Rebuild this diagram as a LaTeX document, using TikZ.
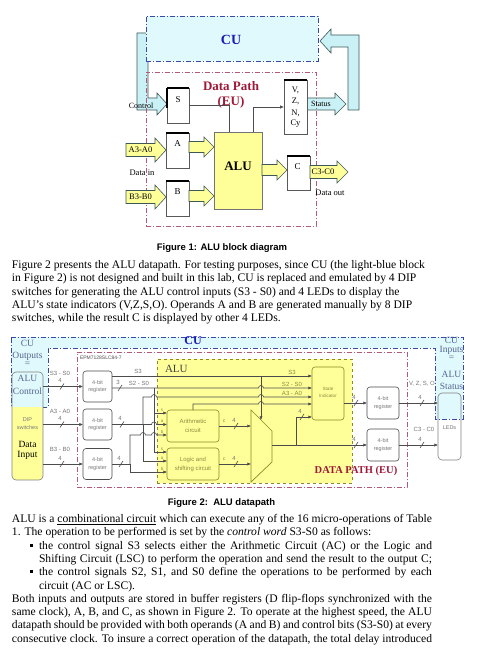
\documentclass[tikz,border=0pt]{standalone}
\usepackage{fontspec}
\setmainfont{Liberation Serif}
\newfontfamily\arialf{Liberation Sans}
\usetikzlibrary{arrows.meta}
\definecolor{cubg}{HTML}{E0F9FD}
\definecolor{cublue}{HTML}{3848A8}
\definecolor{cutxt}{HTML}{1A1AB8}
\definecolor{dptxt}{HTML}{A01838}
\definecolor{dpline}{HTML}{B45A78}
\definecolor{aluy}{HTML}{FFFF99}
\definecolor{oliv}{HTML}{8A8A20}
\definecolor{wirec}{HTML}{4C4C4C}
\definecolor{gtxt}{HTML}{777777}
\definecolor{otxt}{HTML}{8A8A40}
\definecolor{cyarr}{HTML}{C9F1F6}
\definecolor{arrl}{HTML}{3E5858}
\definecolor{coltxt}{HTML}{55658F}
\newcommand{\myss}[1]{\arialf\fontsize{#1}{#1}\selectfont}
\newcommand{\myrm}[1]{\fontsize{#1}{#1}\selectfont}
\newcommand{\barrow}[7]{\draw[#1] ({#2},{#4-#5}) -- ({#3-#7},{#4-#5}) -- ({#3-#7},{#4-#6}) -- ({#3},{#4}) -- ({#3-#7},{#4+#6}) -- ({#3-#7},{#4+#5}) -- ({#2},{#4+#5}) -- cycle;}
\tikzset{
  cubox/.style={draw=cublue, fill=cubg, line width=0.7pt, dash pattern=on 5pt off 2pt on 1pt off 2pt},
  dpbox/.style={draw=dpline, line width=0.8pt, dash pattern=on 5pt off 2pt on 1pt off 2pt},
  boxone/.style={draw=black!65, fill=white, line width=0.5pt},
  cyblock/.style={fill=cyarr, draw=arrl, line width=0.6pt},
  yblock/.style={fill=aluy, draw=arrl, line width=0.6pt},
  fonewire/.style={draw=black!70, line width=0.6pt},
  wire/.style={draw=wirec, line width=0.6pt},
  warr/.style={wire, -{Latex[length=3.6pt,width=3.2pt]}},
  regbox/.style={draw=wirec, fill=white, rounded corners=3pt, line width=0.6pt, minimum width=29pt, minimum height=31pt},
  ybox/.style={draw=oliv, fill=aluy, rounded corners=3pt, line width=0.6pt},
  tinyl/.style={font=\myss{6}, text=gtxt},
  pics/busmark/.style={code={\draw[wire] (-2,3) -- (2,-3); \node[font=\myss{6}, text=gtxt] at (-2,-6) {#1};}},
  bodyt/.style={font=\myrm{11.6}, anchor=base west}
}
\begin{document}
\begin{tikzpicture}[x=1pt,y=-1pt, every node/.style={inner sep=0pt, outer sep=0pt}]
\useasboundingbox (0,0) rectangle (478,655);
\fill[white] (0,0) rectangle (478,655);

%%%%%%%%%%%%%%%% FIGURE 1 %%%%%%%%%%%%%%%%
% U arrows
\draw[cyblock] (147,33) -- (137,33) -- (137,110) -- (157,110) -- (157,115) -- (167,104) -- (157,93) -- (157,98) -- (148,98) -- (148,45) -- (147,45) -- cycle;
\draw[cyblock] (320,41) -- (331,29) -- (331,35) -- (359,35) -- (359,110) -- (348,110) -- (348,47) -- (331,47) -- (331,53) -- cycle;
\draw[cyblock] (307,98) -- (335,98) -- (335,93) -- (346,104) -- (335,115) -- (335,110) -- (307,110) -- cycle;
% CU box
\node[cubox, minimum width=172pt, minimum height=45pt] (cu1) at (232,38.5) {};
\node[font=\bfseries\myrm{14}, text=cutxt] at (231,40) {CU};
% data path box
\node[dpbox, minimum width=170pt, minimum height=154pt] (dp1) at (231,149) {};
\node[font=\bfseries\myrm{13}, text=dptxt] at (231,86) {Data Path};
\node[font=\bfseries\myrm{13}, text=dptxt] at (231,102) {(EU)};
% boxes
\node[boxone, minimum width=22pt, minimum height=35pt] (S) at (178,105.5) {};
\node[boxone, minimum width=23pt, minimum height=35pt] (A) at (177.5,150.5) {};
\node[boxone, minimum width=23pt, minimum height=35pt] (B) at (177.5,198.5) {};
\node[boxone, minimum width=23pt, minimum height=54pt] (VZ) at (295.5,107) {};
\node[boxone, minimum width=23pt, minimum height=34pt] (C) at (298.5,173) {};
\node[draw=black!55, fill=aluy, line width=0.5pt, minimum width=48pt, minimum height=77pt] (ALU1) at (238,170.5) {};
\foreach \b in {S,A,B,VZ,C}{\draw[line width=1.3pt] (\b.north west) -- (\b.north east);}
\draw[line width=1.2pt] (S.north west) -- ([yshift=-20pt]S.north west);
\node[font=\myrm{9}] at (178,100) {S};
\node[font=\myrm{9}] at (177.5,144) {A};
\node[font=\myrm{9}] at (177.5,192) {B};
\node[font=\myrm{9}] at (297.5,167) {C};
\node[font=\bfseries\myrm{13}] at (238,166) {ALU};
\node[font=\myrm{8.5}] at (295.5,90) {V,};
\node[font=\myrm{8.5}] at (295.5,101.5) {Z,};
\node[font=\myrm{8.5}] at (295.5,113) {N,};
\node[font=\myrm{8.5}] at (295.5,124) {Cy};
% connectors
\draw[fonewire] (S.east) -| ([xshift=-9pt]ALU1.north);
\draw[fonewire, -{Latex[length=4pt,width=3.5pt]}] ([xshift=15pt]ALU1.north) |- (VZ.west);
% yellow block arrows
\barrow{yblock}{126}{166}{150}{6.5}{12}{11}
\barrow{yblock}{126}{166}{197}{6.5}{12}{11}
\barrow{yblock}{189}{214}{147}{5.5}{10}{10}
\barrow{yblock}{189}{214}{196}{5.5}{10}{10}
\barrow{yblock}{262}{287}{170}{5.5}{10}{10}
\barrow{yblock}{310}{348}{172}{6.5}{11}{11}
\node[font=\myrm{8}] at (141,106) {Control};
\node[font=\myrm{8}] at (321,104) {Status};
\node[font=\myrm{8.5}] at (140.5,150) {A3-A0};
\node[font=\myrm{8.5}] at (140.5,197) {B3-B0};
\node[font=\myrm{8.5}] at (323,172) {C3-C0};
\node[font=\myrm{8.5}] at (142,172.5) {Data in};
\node[font=\myrm{8.5}] at (330,193) {Data out};

\node[font=\arialf\bfseries\myrm{9.5}, anchor=base] at (222,250.5) {Figure 1: ALU block diagram};

%%%%%%%%%%%%%%%% PARAGRAPH 1 %%%%%%%%%%%%%%%%
\node[bodyt] at (12,268.5) {Figure 2 presents the ALU datapath. For testing purposes, since CU (the light-blue block};
\node[bodyt] at (12,281.8) {in Figure 2) is not designed and built in this lab, CU is replaced and emulated by 4 DIP};
\node[bodyt] at (12,295.1) {switches for generating the ALU control inputs (S3 - S0) and 4 LEDs to display the};
\node[bodyt] at (12,308.4) {ALU’s state indicators (V,Z,S,O). Operands A and B are generated manually by 8 DIP};
\node[bodyt] at (12,321.7) {switches, while the result C is displayed by other 4 LEDs.};

%%%%%%%%%%%%%%%% FIGURE 2 %%%%%%%%%%%%%%%%
\path[cubox] (11,337) -- (463,337) -- (463,419) -- (435,419) -- (435,348) -- (48,348) -- (48,407) -- (11,407) -- cycle;
\begin{scope}
\clip[rounded corners=4pt] (12,372) rectangle (43,480);
\fill[aluy] (12,407) rectangle (43,480);
\end{scope}
\node[draw=gray, line width=0.6pt, rounded corners=4pt, minimum width=31pt, minimum height=108pt] (inbox) at (27.5,426) {};
\node[draw=gray, line width=0.6pt, rounded corners=4pt, minimum width=23pt, minimum height=67pt] (leds) at (449.5,426.5) {};
\node[dpbox, minimum width=330pt, minimum height=135pt] (chip) at (242,419.5) {};
\node[draw=oliv, fill=aluy, dashed, line width=0.7pt, minimum width=195pt, minimum height=124pt] (alureg) at (254.5,421) {};

\node[font=\bfseries\myrm{12}, text=cutxt] at (193,341) {CU};
\foreach \t/\yy in {CU/343,Outputs/356,=/364,ALU/378,Control/391}{\node[font=\myrm{9.5}, text=coltxt] at (27.5,\yy) {\t};}
\foreach \t/\yy in {CU/340,Inputs/350,=/358,ALU/374,Status/386}{\node[font=\myrm{9.5}, text=coltxt] at (451.5,\yy) {\t};}
\node[font=\myss{5.5}, text=gtxt] at (27.5,420) {DIP};
\node[font=\myss{5.5}, text=gtxt] at (27.5,428) {switches};
\node[font=\myrm{9.5}] at (27.5,444) {Data};
\node[font=\myrm{9.5}] at (27.5,455) {Input};
\node[font=\myss{5.5}, text=gtxt] at (449.5,428) {LEDs};
\node[font=\myss{5}, text=black!70, anchor=west] at (80,358) {EPM7128SLC84-7};
\node[font=\myrm{11}, text=black!75, anchor=west] at (165,369) {ALU};
\node[font=\bfseries\myrm{10.5}, text=dptxt] at (356,471) {DATA PATH (EU)};

% registers and blocks
\node[regbox] (reg1) at (97.5,386.5) {};
\node[regbox] (reg2) at (97.5,424.5) {};
\node[regbox] (reg3) at (97.5,464) {};
\node[regbox, minimum width=32pt, minimum height=32pt] (reg4) at (383,403) {};
\node[regbox, minimum width=32pt, minimum height=32pt] (reg5) at (383,445) {};
\foreach \r in {reg1,reg2,reg3,reg4,reg5}{
  \node[font=\myss{5.5}, text=gtxt] at ([yshift=4pt]\r.center) {4-bit};
  \node[font=\myss{5.5}, text=gtxt] at ([yshift=-4pt]\r.center) {register};}
\node[ybox, minimum width=52pt, minimum height=32pt] (arith) at (193,426) {};
\node[ybox, minimum width=52pt, minimum height=32pt] (logic) at (193,464) {};
\node[ybox, minimum width=32pt, minimum height=53pt] (state) at (328,393.5) {};
\node[font=\myss{6}, text=otxt] at (193,421.5) {Arithmetic};
\node[font=\myss{6}, text=otxt] at (193,430.5) {circuit};
\node[font=\myss{6}, text=otxt] at (193,460) {Logic and};
\node[font=\myss{6}, text=otxt] at (193,469) {shifting circuit};
\node[font=\myss{4.6}, text=otxt] at (328,389) {State};
\node[font=\myss{4.6}, text=otxt] at (328,396) {Indicator};
% mux
\coordinate (muxtl) at (251,410);
\coordinate (muxout) at (272,445);
\draw[draw=oliv, fill=aluy, line width=0.7pt] (muxtl) -- (272,431) -- (272,462) -- (251,482) -- cycle;

% input wires
\draw[warr] (inbox.east |- reg1.west) -- (reg1.west);
\draw[warr] (inbox.east |- reg2.west) -- (reg2.west);
\draw[warr] (inbox.east |- reg3.west) -- (reg3.west);
\pic at (62,386.5) {busmark=4};
\pic at (62,424.5) {busmark=4};
\pic at (62,464) {busmark=4};
\node[tinyl] at (60,373) {S3 - S0};
\node[tinyl] at (60,411) {A3 - A0};
\node[tinyl] at (60,449.5) {B3 - B0};

% S3
\draw[warr] (reg1.east |- 0,376) -- (state.west |- 0,376);
\draw[warr] (261,376) -- (261,420);
\node[tinyl] at (138,371) {S3};
\node[tinyl, text=otxt] at (292,372) {S3};
% S2-S0
\draw[warr] (reg1.east |- 0,388) -- (258.5,388) arc[start angle=180,end angle=360,radius=2.5] -- (state.west |- 0,388);
\pic at (120,388) {busmark=3};
\node[tinyl] at (139,383) {S2 - S0};
\node[tinyl, text=otxt] at (292,384.5) {S2 - S0};
\draw[warr] (154,388) |- (logic.west |- 0,452);
\draw[warr] (154,413) -- (arith.west |- 0,413);
% A
\draw[warr] (reg2.east) -- (151.5,424.5) arc[start angle=180,end angle=360,radius=2.5] -- (arith.west |- reg2.east);
\pic at (122,424.5) {busmark=4};
\draw[warr] (143,424.5) |- (logic.west |- 0,461);
\draw[warr] (143,424.5) -- (143,397) -- (151.5,397) arc[start angle=180,end angle=360,radius=2.5] -- (258.5,397) arc[start angle=180,end angle=360,radius=2.5] -- (state.west |- 0,397);
\node[tinyl, text=otxt] at (292,393) {A3 - A0};
% B
\draw[wire] (reg3.east) -- (130,464);
\pic at (121,464) {busmark=4};
\draw[warr] (130,464) |- (logic.west |- 0,472);
\draw[warr] (130,464) -- (130,435) -- (140.5,435) arc[start angle=180,end angle=360,radius=2.5] -- (151.5,435) arc[start angle=180,end angle=360,radius=2.5] -- (arith.west |- 0,435);
% arith flags to state
\draw[warr] (arith.north) -- (193,404) -- (258.5,404) arc[start angle=180,end angle=360,radius=2.5] -- (state.west |- 0,404);
% input letters
\foreach \t/\yy in {s/410,a/421.5,b/432,s/449,a/458,b/469}{\node[font=\myss{4.5}, text=otxt] at (162,\yy) {\t};}
% circuit outputs
\draw[warr] (arith.east) -- (arith.east -| muxtl);
\draw[warr] (logic.east) -- (logic.east -| muxtl);
\pic at (236,426) {busmark=4};
\pic at (236,464) {busmark=4};
\node[font=\myss{5}, text=otxt] at (224,421) {c};
\node[font=\myss{5}, text=otxt] at (224,459) {c};
% mux output
\draw[warr] (muxout) -- (reg5.west);
\pic at (356,445) {busmark=4};
\draw[warr] (296,445) |- (state.west |- 0,417);
\pic at (302,417) {busmark=4};
% state out
\draw[warr] (state.east |- reg4.west) -- (reg4.west);
\pic at (356,403) {busmark=4};
% register outputs to LEDs
\draw[warr] (reg4.east) -- (reg4.east -| leds.west);
\draw[warr] (reg5.east) -- (reg5.east -| leds.west);
\pic at (422,403) {busmark=4};
\pic at (422,445) {busmark=4};
\node[tinyl, anchor=west] at (409,384) {V, Z, S, O};
\node[tinyl] at (424,429) {C3 - C0};

\node[font=\arialf\bfseries\myrm{9.5}, anchor=base] at (221.5,505.5) {Figure 2:\ \ ALU datapath};

%%%%%%%%%%%%%%%% PARAGRAPH 2 %%%%%%%%%%%%%%%%
\node[bodyt] at (12,522.5) {\hbox to 420pt{ALU is a \underline{combinational circuit} which can execute any of the 16 micro-operations of Table}};
\node[bodyt] at (12,535.8) {1. The operation to be performed is set by the \textit{control word} S3-S0 as follows:};
\node[fill=black, minimum size=3pt] (bul1) at (31,545.2) {};
\node[bodyt] at (39,549.1) {\hbox to 393pt{the control signal S3 selects either the Arithmetic Circuit (AC) or the Logic and}};
\node[bodyt] at (39,562.4) {\hbox to 393pt{Shifting Circuit (LSC) to perform the operation and send the result to the output C;}};
\node[fill=black, minimum size=3pt] (bul2) at (31,571.8) {};
\node[bodyt] at (39,575.7) {\hbox to 393pt{the control signals S2, S1, and S0 define the operations to be performed by each}};
\node[bodyt] at (39,589.0) {circuit (AC or LSC).};
\node[bodyt] at (12,602.3) {\hbox to 420pt{Both inputs and outputs are stored in buffer registers (D flip-flops synchronized with the}};
\node[bodyt] at (12,615.6) {\hbox to 420pt{same clock), A, B, and C, as shown in Figure 2. To operate at the highest speed, the ALU}};
\node[bodyt] at (12,628.9) {\hbox to 420pt{datapath should be provided with both operands (A and B) and control bits (S3-S0) at every}};
\node[bodyt] at (12,642.2) {\hbox to 420pt{consecutive clock. To insure a correct operation of the datapath, the total delay introduced}};
\end{tikzpicture}
\end{document}
